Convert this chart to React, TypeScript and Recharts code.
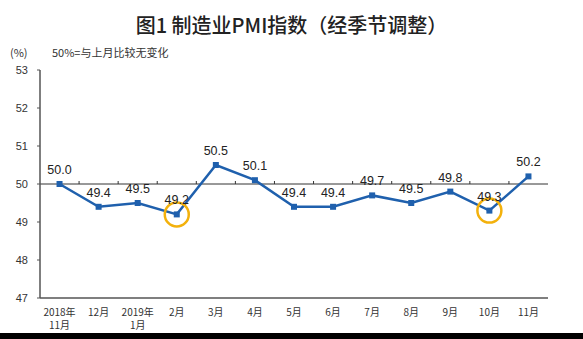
import React from 'react';
import { LineChart, Line, XAxis, YAxis, ReferenceLine, ReferenceDot, LabelList } from 'recharts';

const months = ['2018年\n11月', '12月', '2019年\n1月', '2月', '3月', '4月', '5月', '6月', '7月', '8月', '9月', '10月', '11月'];
const pmi = [50.0, 49.4, 49.5, 49.2, 50.5, 50.1, 49.4, 49.4, 49.7, 49.5, 49.8, 49.3, 50.2];
const yTicks = [47, 48, 49, 50, 51, 52, 53];
const circled = ['2月', '10月'];

const W = 583;
const H = 339;
const margin = { top: 70, right: 35, left: 8, bottom: 0 };
const yAxisW = 32;
const bandW = (W - margin.left - margin.right - yAxisW) / months.length;

const data = months.map((m, i) => ({ month: m, value: pmi[i] }));

const BLUE = '#1f60ad';
const AXIS = '#555';

const SquareDot = (props: any) => {
    const { cx, cy } = props;
    if (cx == null || cy == null) return null;
    return <rect x={cx - 3} y={cy - 3} width={6} height={6} fill={BLUE} />;
};

const MonthTick = (props: any) => {
    const { x, y, payload } = props;
    const lines = String(payload.value).split('\n');
    return (
        <text x={x} y={y} textAnchor="middle" fill="#333" fontSize={10} fontFamily="'Noto Sans CJK SC', sans-serif">
            {lines.map((l, i) => (
                <tspan key={i} x={x} dy={i === 0 ? 10 : 13}>{l}</tspan>
            ))}
        </text>
    );
};

// small tick marks on the 50 line, at the boundary left of each category
const BoundaryTick = (props: any) => {
    const { x1, y1 } = props;
    if (x1 == null || y1 == null) return null;
    const bx = x1 - bandW / 2;
    return <line x1={bx} y1={y1} x2={bx} y2={y1 - 3} stroke="#333" strokeWidth={1} />;
};

export default function App() {
    return (
        <div style={{ position: 'absolute', left: 0, top: 0, width: W, height: H, background: '#fff', overflow: 'hidden' }}>
            <div style={{
                position: 'absolute', left: 0, width: W, top: 10, textAlign: 'center',
                fontFamily: "'Noto Sans CJK SC', sans-serif", fontSize: 20, fontWeight: 500, color: '#222',
            }}>
                图1 制造业PMI指数（经季节调整）
            </div>
            <div style={{
                position: 'absolute', left: 10, top: 44, fontFamily: "'Noto Sans CJK SC', sans-serif",
                fontSize: 11, color: '#333',
            }}>
                (%)
            </div>
            <div style={{
                position: 'absolute', left: 52, top: 44, fontFamily: "'Noto Sans CJK SC', sans-serif",
                fontSize: 11, color: '#333',
            }}>
                50%=与上月比较无变化
            </div>
            <div style={{ position: 'absolute', left: 0, top: 0 }}>
                <LineChart width={W} height={H} data={data} margin={margin}>
                    <XAxis
                        dataKey="month"
                        scale="band"
                        height={41}
                        interval={0}
                        tick={<MonthTick />}
                        tickLine={false}
                        axisLine={{ stroke: AXIS, strokeWidth: 1.5 }}
                    />
                    <XAxis xAxisId="top" dataKey="month" scale="band" orientation="top" height={0} tick={false} tickLine={false} axisLine={{ stroke: AXIS, strokeWidth: 1.5 }} />
                    <YAxis
                        domain={[47, 53]}
                        ticks={yTicks}
                        width={yAxisW}
                        tickSize={3}
                        tickMargin={9}
                        tick={{ fill: '#333', fontSize: 11, fontFamily: 'Liberation Sans, Arial, sans-serif' }}
                        tickLine={{ stroke: AXIS }}
                        axisLine={{ stroke: AXIS, strokeWidth: 1.5 }}
                    />
                    <YAxis yAxisId="right" orientation="right" domain={[47, 53]} width={0} tick={false} tickLine={false} axisLine={{ stroke: '#888', strokeWidth: 2 }} />
                    <ReferenceLine y={50} stroke="#333" strokeWidth={1} />
                    {months.slice(1).map((m) => (
                        <ReferenceLine key={m} segment={[{ x: m, y: 50 }, { x: m, y: 50.05 }]} shape={<BoundaryTick />} />
                    ))}
                    <Line
                        type="linear"
                        dataKey="value"
                        stroke={BLUE}
                        strokeWidth={2.5}
                        dot={<SquareDot />}
                        activeDot={false}
                        isAnimationActive={false}
                    >
                        <LabelList
                            dataKey="value"
                            position="top"
                            offset={10}
                            formatter={(v: any) => Number(v).toFixed(1)}
                            style={{ fill: '#222', fontSize: 12.5, fontFamily: 'Liberation Sans, Arial, sans-serif' }}
                        />
                    </Line>
                    {circled.map((m) => (
                        <ReferenceDot
                            key={m}
                            x={m}
                            y={pmi[months.indexOf(m)]}
                            r={12}
                            fill="none"
                            stroke="#f3b10c"
                            strokeWidth={2.5}
                        />
                    ))}
                </LineChart>
            </div>
            <div style={{ position: 'absolute', left: 0, top: 333, width: W, height: 6, background: '#000' }} />
        </div>
    );
}
